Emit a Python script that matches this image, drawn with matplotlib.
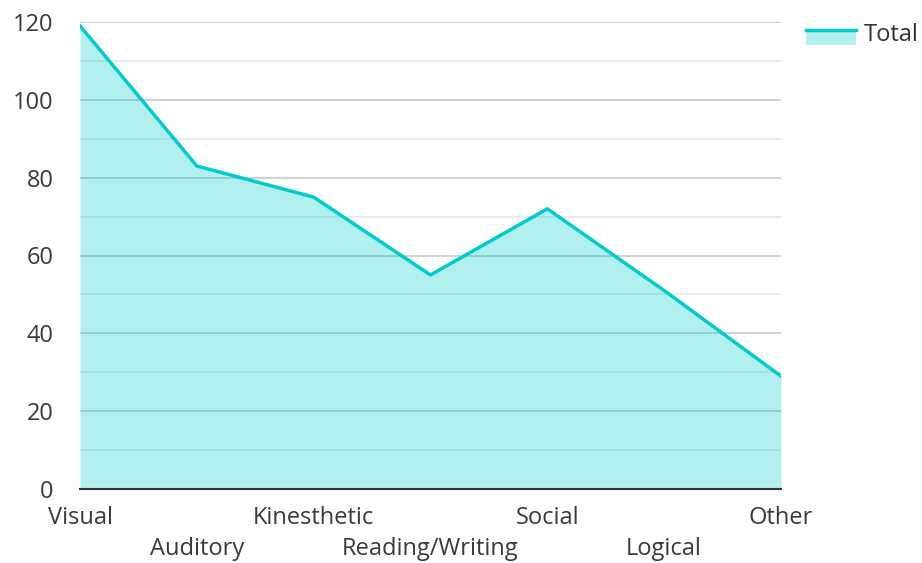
import matplotlib.pyplot as plt
from matplotlib.patches import Rectangle
from matplotlib.lines import Line2D
from matplotlib.legend_handler import HandlerBase

plt.rcParams['font.family'] = ['Open Sans', 'DejaVu Sans']

categories = ['Visual', 'Auditory', 'Kinesthetic', 'Reading/Writing', 'Social', 'Logical', 'Other']
totals = [119, 83, 75, 55, 72, 51, 29]

line_color = '#00cccc'


# legend key: line sitting on top of a shaded area
class AreaHandler(HandlerBase):
    def create_artists(self, legend, orig_handle, xdescent, ydescent,
                       width, height, fontsize, trans):
        top = -ydescent + height * 0.7
        r = Rectangle((-xdescent, top - height), width, height,
                      facecolor=line_color, alpha=0.3, edgecolor='none', transform=trans)
        ln = Line2D([-xdescent, -xdescent + width], [top, top],
                    color=line_color, linewidth=2.5, transform=trans)
        return [r, ln]


fig = plt.figure(figsize=(9.22, 5.63), dpi=100)
ax = fig.add_axes([80 / 922, 1 - 489 / 563, 701 / 922, 467 / 563])

x = list(range(len(categories)))
ax.fill_between(x, totals, 0, color=line_color, alpha=0.3, linewidth=0, zorder=2)
area_line, = ax.plot(x, totals, color=line_color, linewidth=2.5, zorder=3)

ax.set_xlim(0, len(categories) - 1)
ax.set_ylim(0, 120)
ax.set_yticks(range(0, 121, 20))
ax.set_yticks(range(10, 120, 20), minor=True)
ax.grid(axis='y', which='major', color='#c8c8c8', linewidth=1.2, zorder=1)
ax.grid(axis='y', which='minor', color='#e8e8e8', linewidth=1.2, zorder=1)
ax.set_axisbelow(True)

for s in ['top', 'right', 'left']:
    ax.spines[s].set_visible(False)
ax.spines['bottom'].set_color('#333333')
ax.spines['bottom'].set_linewidth(1.5)
ax.spines['bottom'].set_zorder(4)

ax.tick_params(axis='both', which='both', length=0, labelsize=17, colors='#3a3a3a')
ax.tick_params(axis='y', pad=19)
ax.tick_params(axis='x', pad=12)
ax.set_xticks(x)
ax.set_xticklabels(categories)
for i, lbl in enumerate(ax.get_xticklabels()):
    if i % 2 == 1:
        lbl.set_y(-0.068)

fig.legend([area_line], ['Total'], handler_map={area_line: AreaHandler()},
           loc='upper left', bbox_to_anchor=(806 / 922, 1 - 23 / 563), frameon=False,
           fontsize=17, handlelength=2.1, handleheight=0.6, handletextpad=0.35,
           borderpad=0, borderaxespad=0, labelcolor='#333333')

fig.savefig('out.png', dpi=100)
